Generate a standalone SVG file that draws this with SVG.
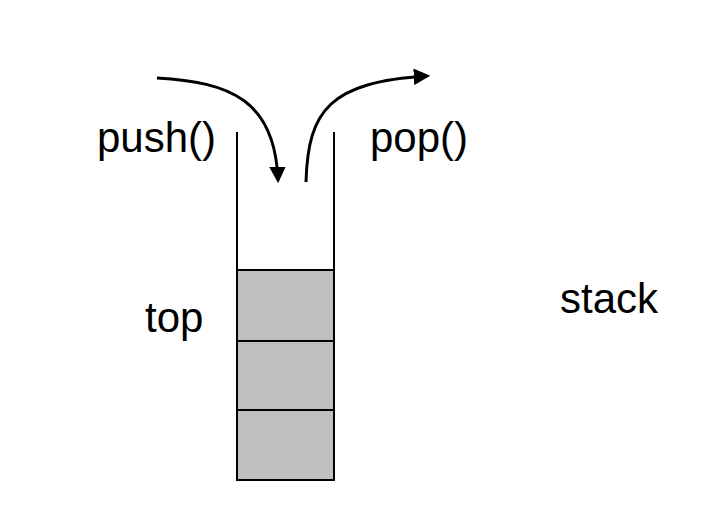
<svg xmlns="http://www.w3.org/2000/svg" width="713" height="525" viewBox="0 0 713 525">
<style>
text{font-family:"Liberation Sans",Arial,sans-serif;font-size:42px;fill:#000}
.w{stroke:#000;stroke-width:2;fill:none}
.c{fill:#bfbfbf;stroke:#000;stroke-width:2}
.a{stroke:#000;stroke-width:3;fill:none;marker-end:url(#ah)}
</style>
<defs><marker id="ah" viewBox="0 0 10 10" refX="8" refY="5" markerWidth="5.5" markerHeight="5.5" orient="auto" markerUnits="strokeWidth"><path d="M0,0L10,5L0,10z" fill="#000"/></marker></defs>
<rect width="713" height="525" fill="#fff"/>
<g id="stack">
<rect class="c" x="237" y="270" width="97" height="71"/>
<rect class="c" x="237" y="341" width="97" height="69"/>
<rect class="c" x="237" y="410" width="97" height="70"/>
<path class="w" d="M237,132V480M334,132V480"/>
</g>
<g id="connectors">
<path class="a" d="M157,78C230,82 275,100 278,180"/>
<path class="a" d="M306,182C308,110 330,82 427,76"/>
</g>
<g id="labels">
<text x="97" y="152">push()</text>
<text x="370" y="152">pop()</text>
<text x="145" y="332">top</text>
<text x="560" y="313">stack</text>
</g>
</svg>
